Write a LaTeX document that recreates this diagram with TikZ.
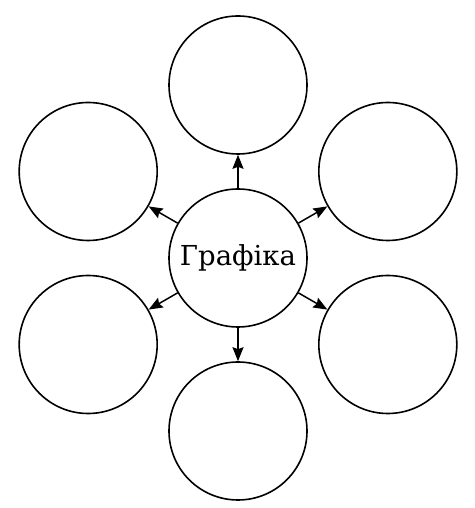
\documentclass[tikz,border=0pt]{standalone}
\usepackage{fontspec}
\setmainfont{DejaVu Serif}
\usetikzlibrary{arrows.meta}
\begin{document}
\begin{tikzpicture}[x=1pt,y=1pt,
  bubble/.style={circle,draw,line width=1.6pt,minimum size=138pt,inner sep=0pt},
  link/.style={line width=1.5pt,-{Stealth[length=14pt,width=11pt,inset=2pt]}}]
\useasboundingbox (0,0) rectangle (474,508);
\node[bubble,font=\fontsize{27.5}{32}\selectfont] (c) at (238,250) {Графіка};
\foreach \a/\n in {90/t,150/lu,210/ll,270/b,330/rl,30/ru}{
  \node[bubble] (\n) at ([shift={(\a:173)}]c) {};
  \draw[link] (c) -- (\n);
}
\end{tikzpicture}
\end{document}
